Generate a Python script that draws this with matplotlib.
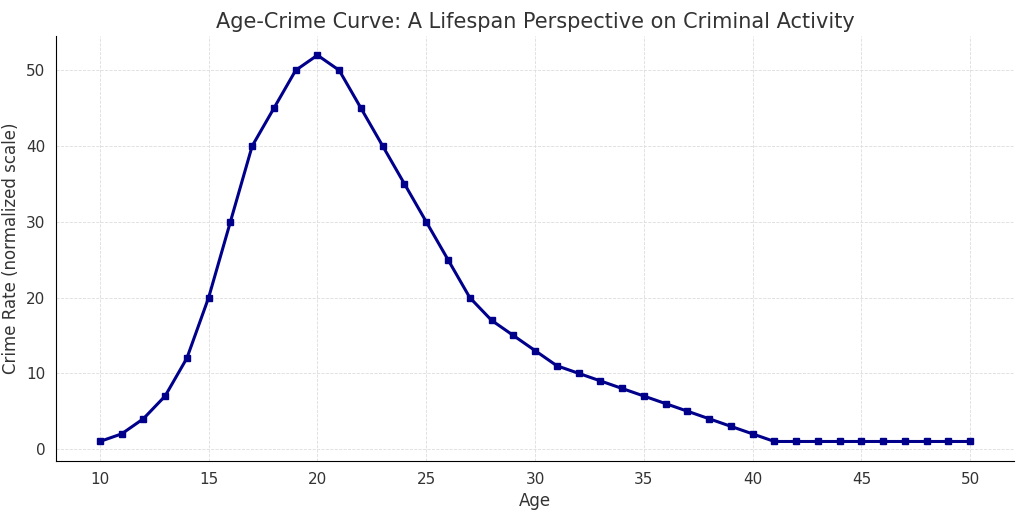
import matplotlib
matplotlib.use("Agg")
import matplotlib.pyplot as plt

ages = list(range(10, 51))
rates = [1, 2, 4, 7, 12, 20, 30, 40, 45, 50, 52, 50, 45, 40, 35, 30, 25, 20, 17, 15, 13, 11, 10, 9, 8, 7, 6, 5, 4, 3, 2,
         1, 1, 1, 1, 1, 1, 1, 1, 1, 1]

fig, ax = plt.subplots(figsize=(10.24, 5.12), dpi=100)
ax.plot(ages, rates, color='darkblue', marker='s', markersize=5, linewidth=2.2)
ax.set_title("Age-Crime Curve: A Lifespan Perspective on Criminal Activity", fontsize=15, color='#333333')
ax.set_xlabel("Age", fontsize=12, color='#333333')
ax.set_ylabel("Crime Rate (normalized scale)", fontsize=12, color='#333333')
ax.grid(True, linestyle='--', linewidth=0.6, color='#dddddd')
for s in ['top', 'right']:
    ax.spines[s].set_visible(False)
ax.tick_params(labelsize=11, colors='#333333', length=0, pad=8)
fig.subplots_adjust(left=0.055, right=0.99, top=0.93, bottom=0.1)
fig.savefig("out.png")
